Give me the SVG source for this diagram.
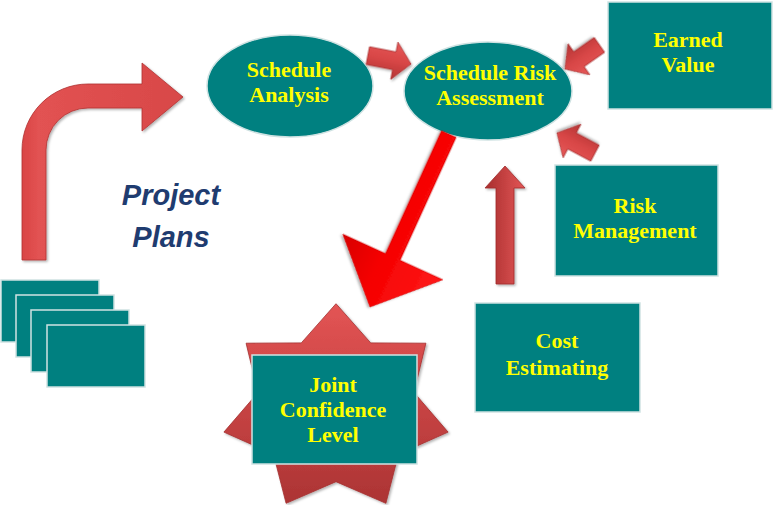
<svg xmlns="http://www.w3.org/2000/svg" width="774" height="505" viewBox="0 0 774 505">
<defs>
<style>
.node{fill:#008080;stroke:#cfe2e2;stroke-width:1.5}
.lbl{font-family:"Liberation Serif","Times New Roman",serif;font-weight:bold;font-size:22px;fill:#FFFF00;text-anchor:middle}
.plans{font-family:"Liberation Sans",Arial,sans-serif;font-weight:bold;font-style:italic;font-size:29px;fill:#1F3C70;text-anchor:middle}
.rarrow{fill:url(#gRed);stroke:#a83030;stroke-width:0.8;filter:url(#sh)}
</style>
<linearGradient id="gRed" x1="0" y1="0" x2="0" y2="1">
<stop offset="0" stop-color="#e65a5a"/>
<stop offset="0.5" stop-color="#d84646"/>
<stop offset="1" stop-color="#b33535"/>
</linearGradient>
<linearGradient id="gCurve" x1="0" y1="0" x2="1" y2="0">
<stop offset="0" stop-color="#d94545"/>
<stop offset="0.1" stop-color="#e25252"/>
<stop offset="1" stop-color="#d84848"/>
</linearGradient>
<linearGradient id="gStar" x1="0" y1="0" x2="0" y2="1">
<stop offset="0" stop-color="#e35454"/>
<stop offset="1" stop-color="#ac3434"/>
</linearGradient>
<linearGradient id="gBig" x1="0" y1="0" x2="0" y2="1">
<stop offset="0" stop-color="#ff1a1a"/>
<stop offset="0.6" stop-color="#f50000"/>
<stop offset="1" stop-color="#d80000"/>
</linearGradient>
<linearGradient id="gUp" x1="0" y1="0" x2="1" y2="0">
<stop offset="0" stop-color="#a82e2e"/>
<stop offset="1" stop-color="#e35656"/>
</linearGradient>
<filter id="sh" x="-20%" y="-20%" width="140%" height="140%">
<feDropShadow dx="1.5" dy="1.5" stdDeviation="1.2" flood-color="#000" flood-opacity="0.3"/>
</filter>
</defs>
<rect width="774" height="505" fill="#ffffff"/>

<g id="project-plans">
<rect class="node" x="1" y="280" width="98" height="62"/>
<rect class="node" x="16" y="295" width="98" height="62"/>
<rect class="node" x="31" y="310" width="98" height="62"/>
<rect class="node" x="47" y="325" width="98" height="62"/>
<text class="plans" x="171" y="205">Project</text>
<text class="plans" x="171" y="247">Plans</text>
</g>

<g id="joint-confidence-level">
<polygon fill="url(#gStar)" stroke="#a33030" stroke-width="0.8" filter="url(#sh)" points="336,303.7 370.7,342.9 425.9,343.2 414,392.5 448.1,432.1 398.5,454.2 385.9,503.3 336,481.7 286.1,503.3 273.5,454.2 223.9,432.1 258,392.5 246.1,343.2 301.3,342.9"/>
<rect class="node" x="252" y="355" width="165" height="109"/>
<text class="lbl" x="333" y="392">Joint</text>
<text class="lbl" x="333" y="417">Confidence</text>
<text class="lbl" x="333" y="442">Level</text>
</g>

<g id="schedule-analysis">
<ellipse class="node" cx="290" cy="86" rx="83" ry="51"/>
<text class="lbl" x="289" y="77">Schedule</text>
<text class="lbl" x="289" y="102">Analysis</text>
</g>

<g id="schedule-risk-assessment">
<ellipse class="node" cx="488" cy="91" rx="84" ry="49"/>
<text class="lbl" x="490" y="80">Schedule Risk</text>
<text class="lbl" x="490" y="105">Assessment</text>
</g>

<g id="earned-value">
<rect class="node" x="608" y="2" width="164" height="107"/>
<text class="lbl" x="688" y="47">Earned</text>
<text class="lbl" x="688" y="72">Value</text>
</g>

<g id="risk-management">
<rect class="node" x="555" y="165" width="163" height="111"/>
<text class="lbl" x="635" y="213">Risk</text>
<text class="lbl" x="635" y="238">Management</text>
</g>

<g id="cost-estimating">
<rect class="node" x="475" y="303" width="165" height="109"/>
<text class="lbl" x="557" y="348">Cost</text>
<text class="lbl" x="557" y="375">Estimating</text>
</g>

<g id="connectors">
<path fill="url(#gCurve)" stroke="#b03434" stroke-width="0.8" filter="url(#sh)" d="M22 260 L22 150 A66 66 0 0 1 88 84 L142 84 L142 63 L183 97 L142 131 L142 108 L88 108 A42 42 0 0 0 46 150 L46 260 Z"/>
<path class="rarrow" transform="translate(411,64) rotate(11)" d="M-44 -9 L-17 -9 L-17 -19 L0 0 L-17 19 L-17 9 L-44 9 Z"/>
<path class="rarrow" transform="translate(565,69) rotate(145)" d="M-42 -9 L-17 -9 L-17 -19 L0 0 L-17 19 L-17 9 L-42 9 Z"/>
<path class="rarrow" transform="translate(557,133) rotate(208)" d="M-43 -9 L-17 -9 L-17 -19 L0 0 L-17 19 L-17 9 L-43 9 Z"/>
<path fill="url(#gUp)" stroke="#a02c2c" stroke-width="0.8" filter="url(#sh)" d="M496 284 L496 188 L485 188 L505 166 L525 188 L514 188 L514 284 Z"/>
<path fill="url(#gBig)" stroke="#d00000" stroke-width="0.6" filter="url(#sh)" transform="translate(370,307) rotate(114.5)" d="M-190 -8 L-55 -8 L-55 -55 L0 0 L-55 55 L-55 8 L-190 8 Z"/>
</g>
</svg>
